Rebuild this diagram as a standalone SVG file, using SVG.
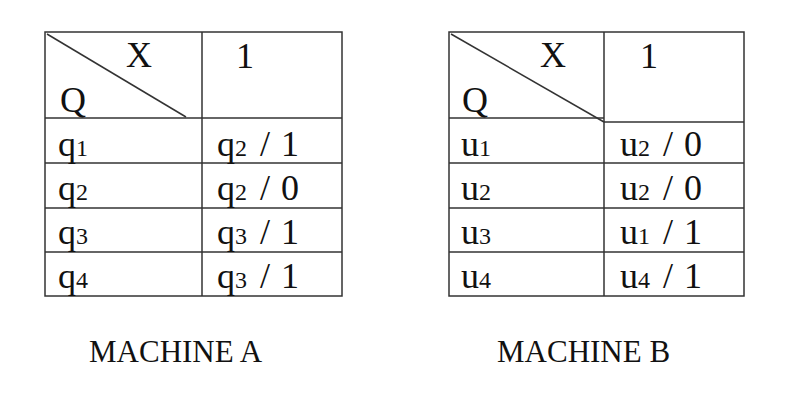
<svg xmlns="http://www.w3.org/2000/svg" width="807" height="404" viewBox="0 0 807 404">
<style>
.l{stroke:#333;stroke-width:1.5;fill:none}
text{font-family:"Liberation Serif",serif;font-size:36px;fill:#111}
.s{font-size:24px}
.c{font-size:31px}
</style>
<rect width="807" height="404" fill="#fff"/>
<g id="tableA">
<rect class="l" x="45" y="32" width="297" height="264"/>
<line class="l" x1="202" y1="32" x2="202" y2="296"/>
<line class="l" x1="45" y1="118" x2="342" y2="118"/>
<line class="l" x1="45" y1="163" x2="342" y2="163"/>
<line class="l" x1="45" y1="208" x2="342" y2="208"/>
<line class="l" x1="45" y1="252" x2="342" y2="252"/>
<line class="l" x1="47" y1="34" x2="186" y2="117"/>
<text x="126" y="67">X</text>
<text x="60" y="112">Q</text>
<text x="236" y="68">1</text>
<text x="58" y="156">q<tspan class="s">1</tspan></text>
<text x="58" y="200">q<tspan class="s">2</tspan></text>
<text x="58" y="244">q<tspan class="s">3</tspan></text>
<text x="58" y="288">q<tspan class="s">4</tspan></text>
<text x="217" y="156">q<tspan class="s">2</tspan><tspan dx="4"> / </tspan><tspan dx="2">1</tspan></text>
<text x="217" y="200">q<tspan class="s">2</tspan><tspan dx="4"> / </tspan><tspan dx="2">0</tspan></text>
<text x="217" y="244">q<tspan class="s">3</tspan><tspan dx="4"> / </tspan><tspan dx="2">1</tspan></text>
<text x="217" y="288">q<tspan class="s">3</tspan><tspan dx="4"> / </tspan><tspan dx="2">1</tspan></text>
</g>
<g id="tableB">
<rect class="l" x="449" y="32" width="295" height="264"/>
<line class="l" x1="604" y1="32" x2="604" y2="296"/>
<line class="l" x1="449" y1="118" x2="604" y2="118"/>
<line class="l" x1="604" y1="122" x2="744" y2="122"/>
<line class="l" x1="449" y1="163" x2="744" y2="163"/>
<line class="l" x1="449" y1="208" x2="744" y2="208"/>
<line class="l" x1="449" y1="252" x2="744" y2="252"/>
<line class="l" x1="451" y1="34" x2="604" y2="122"/>
<text x="540" y="67">X</text>
<text x="462" y="112">Q</text>
<text x="640" y="68">1</text>
<text x="461" y="156">u<tspan class="s">1</tspan></text>
<text x="461" y="200">u<tspan class="s">2</tspan></text>
<text x="461" y="244">u<tspan class="s">3</tspan></text>
<text x="461" y="288">u<tspan class="s">4</tspan></text>
<text x="620" y="156">u<tspan class="s">2</tspan><tspan dx="4"> / </tspan><tspan dx="2">0</tspan></text>
<text x="620" y="200">u<tspan class="s">2</tspan><tspan dx="4"> / </tspan><tspan dx="2">0</tspan></text>
<text x="620" y="244">u<tspan class="s">1</tspan><tspan dx="4"> / </tspan><tspan dx="2">1</tspan></text>
<text x="620" y="288">u<tspan class="s">4</tspan><tspan dx="4"> / </tspan><tspan dx="2">1</tspan></text>
</g>
<text class="c" x="89" y="362">MACHINE A</text>
<text class="c" x="497" y="362">MACHINE B</text>
<g id="connectors"/>
</svg>
